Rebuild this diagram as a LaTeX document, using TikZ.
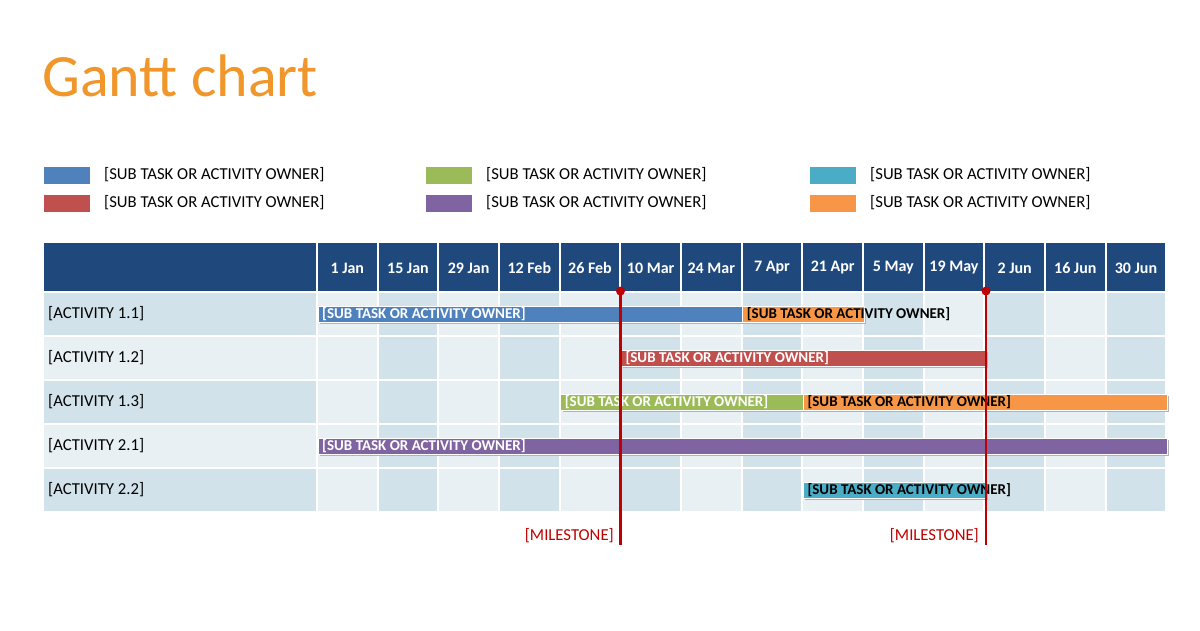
\documentclass[tikz,border=0pt]{standalone}
\usepackage{fontspec}
\setmainfont{Carlito}
\definecolor{hdr}{HTML}{1F497D}
\definecolor{cblue}{HTML}{4F81BD}
\definecolor{cred}{HTML}{C0504D}
\definecolor{cgreen}{HTML}{9BBB59}
\definecolor{cpurple}{HTML}{8064A2}
\definecolor{cteal}{HTML}{4BACC6}
\definecolor{corange}{HTML}{F79646}
\definecolor{ctitle}{HTML}{F0962A}
\definecolor{mile}{HTML}{C00000}
\definecolor{cellA}{HTML}{E8F0F4}
\definecolor{cellB}{HTML}{D2E2EA}
\tikzset{
  bartxt/.style={font=\bfseries\fontsize{15}{17}\selectfont, anchor=west, inner sep=0pt},
  legtxt/.style={font=\fontsize{16.7}{19}\selectfont, anchor=west, inner sep=0pt},
  hdrtxt/.style={font=\bfseries\fontsize{16}{18}\selectfont, text=white},
  mline/.style={draw=mile, line width=2.6pt},
}
\begin{document}
\begin{tikzpicture}[x=1pt,y=-1pt]
\useasboundingbox (0,0) rectangle (1200,630);
\fill[white] (0,0) rectangle (1200,630);
\node[anchor=base west, inner sep=0pt, text=ctitle, font=\fontsize{60}{66}\selectfont] (title) at (42,96) {Gantt chart};
% legend
\foreach \x/\y/\c [count=\i] in {44/167/cblue,44/195/cred,426/167/cgreen,426/195/cpurple,810/167/cteal,810/195/corange}{
  \fill[\c] (\x,\y) rectangle ++(46,17);
  \node[legtxt] (leg\i) at (\x+60,\y+8) {[SUB TASK OR ACTIVITY OWNER]};
}
% header
\fill[hdr] (44,243) rectangle (316,291);
\def\cx{{318,378.6,439.3,500,560.6,621.3,682,742.6,803.3,864,924.6,985.3,1046,1106.6,1167.3}}
\foreach \d [count=\i from 0] in {1 Jan,15 Jan,29 Jan,12 Feb,26 Feb,10 Mar,24 Mar,7 Apr,21 Apr,5 May,19 May,2 Jun,16 Jun,30 Jun}{
  \pgfmathsetmacro\xa{\cx[\i]}
  \pgfmathsetmacro\xb{\cx[\i+1]-2}
  \fill[hdr] (\xa,243) rectangle (\xb,291);
  \node[hdrtxt] (h\i) at ({(\xa+\xb)/2},268) {\d};
}
% rows
\foreach \lab [count=\r from 0] in {1.1,1.2,1.3,2.1,2.2}{
  \pgfmathsetmacro\ya{293+44*\r}
  \pgfmathsetmacro\yb{\ya+42}
  \pgfmathtruncatemacro\rp{mod(\r,2)}
  \ifnum\rp=0 \fill[cellB] (44,\ya) rectangle (316,\yb); \else \fill[cellA] (44,\ya) rectangle (316,\yb); \fi
  \node[legtxt] (a\r) at (48,{\ya+21}) {[ACTIVITY \lab]};
  \foreach \i in {0,...,13}{
    \pgfmathsetmacro\xa{\cx[\i]}
    \pgfmathsetmacro\xb{\cx[\i+1]-2}
    \pgfmathtruncatemacro\cp{mod(\i,2)}
    \ifnum\cp=0 \fill[cellA] (\xa,\ya) rectangle (\xb,\yb); \else \fill[cellB] (\xa,\ya) rectangle (\xb,\yb); \fi
  }
}
\newcommand{\gbar}[6]{%
  \fill[black!30] (#2+2,#4-6) rectangle (#3+2,#4+10);
  \fill[#5] (#2,#4-8) rectangle (#3,#4+8);
  \draw[white, line width=0.6pt] (#2,#4-8) rectangle (#3,#4+8);
  \node[bartxt, text=#6] (#1) at (#2+4,#4) {[SUB TASK OR ACTIVITY OWNER]};
}
\gbar{b1}{318}{742.6}{314}{cblue}{white}
\gbar{b2}{742.6}{864}{314}{corange}{black}
\gbar{b3}{621.3}{986}{358}{cred}{white}
\gbar{b4}{560.6}{803.3}{402}{cgreen}{white}
\gbar{b5}{803.3}{1167.3}{402}{corange}{black}
\gbar{b6}{318}{1167.3}{446}{cpurple}{white}
\gbar{b7}{803.3}{986}{490}{cteal}{black}
% milestones
\coordinate (m1t) at (620.5,291);
\coordinate (m1b) at (620.5,545);
\coordinate (m2t) at (986,291);
\coordinate (m2b) at (986,545);
\draw[mline] (m1t) -- (m1b);
\draw[mline] (m2t) -- (m2b);
\fill[mile] (m1t) circle (4.5);
\fill[mile] (m2t) circle (4.5);
\node[legtxt, anchor=east, text=mile] (ml1) at (614,536) {[MILESTONE]};
\node[legtxt, anchor=east, text=mile] (ml2) at (979,536) {[MILESTONE]};
\end{tikzpicture}
\end{document}
